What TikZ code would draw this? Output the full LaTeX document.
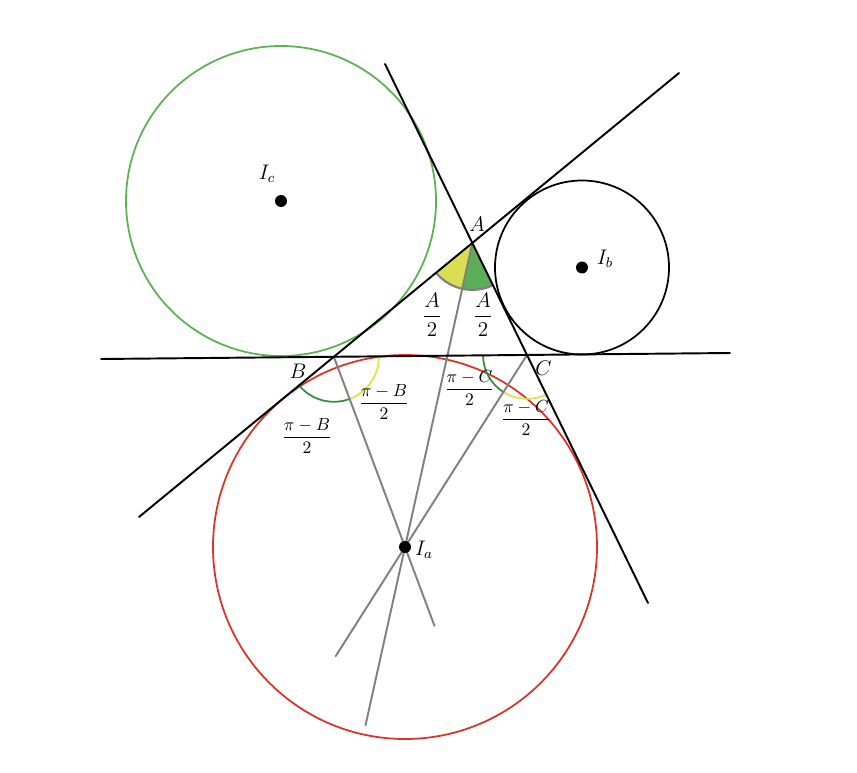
\documentclass[tikz,border=0pt]{standalone}
\usepackage{amsmath}
\usetikzlibrary{calc}
\definecolor{circgreen}{RGB}{92,178,82}
\definecolor{circred}{RGB}{220,50,40}
\definecolor{wedgeyellow}{RGB}{217,222,84}
\definecolor{wedgegreen}{RGB}{92,174,88}
\definecolor{arcgreen}{RGB}{55,140,60}
\definecolor{arcyellow}{RGB}{222,228,70}
\definecolor{bisgray}{RGB}{128,128,128}
\begin{document}
\begin{tikzpicture}[x=0.02cm,y=0.02cm,line cap=round,
sideline/.style={line width=1.1pt},
bisector/.style={draw=bisgray,line width=1.1pt},
excircle/.style={line width=1pt},
anglearc/.style={line width=1pt},
dot/.style={circle,fill,inner sep=0pt,minimum size=0.24cm}]
\useasboundingbox (0,0) rectangle (857,772);
% side lines and vertices
\coordinate (ab1) at (139,255);
\coordinate (ab2) at (679,699);
\coordinate (ca1) at (385,708);
\coordinate (ca2) at (648,169);
\coordinate (bc1) at (101,413);
\coordinate (bc2) at (730,419);
\coordinate (A) at (intersection of ab1--ab2 and ca1--ca2);
\coordinate (B) at (intersection of ab1--ab2 and bc1--bc2);
\coordinate (C) at (intersection of ca1--ca2 and bc1--bc2);
\coordinate (Ia) at (405,225);
\coordinate (Ib) at (582,504.5);
\coordinate (Ic) at (281,571);
% excircles
\draw[excircle,circgreen] (Ic) circle[radius=155];
\draw[excircle] (Ib) circle[radius=87];
\draw[excircle,circred] (Ia) circle[radius=192];
% half angles at A
\fill[wedgeyellow] (A) -- ++(219.4:47) arc[start angle=219.4,end angle=257.5,radius=47] -- cycle;
\fill[wedgegreen] (A) -- ++(257.5:47) arc[start angle=257.5,end angle=296,radius=47] -- cycle;
\draw[bisgray,line width=1.2pt] (A) ++(219.4:47) arc[start angle=219.4,end angle=296,radius=47];
% outer half angles at B and C
\draw[anglearc,arcgreen] (B) ++(219.4:45) arc[start angle=219.4,end angle=290.5,radius=45];
\draw[anglearc,arcyellow] (B) ++(290.5:45) arc[start angle=290.5,end angle=360.6,radius=45];
\draw[anglearc,arcgreen] (C) ++(180.6:44) arc[start angle=180.6,end angle=237.6,radius=44];
\draw[anglearc,arcyellow] (C) ++(237.6:44) arc[start angle=237.6,end angle=296,radius=44];
% bisectors through Ia
\draw[bisector] (A) -- ($(A)!1.586!(Ia)$);
\draw[bisector] (B) -- ($(B)!1.414!(Ia)$);
\draw[bisector] (C) -- ($(C)!1.568!(Ia)$);
% sides
\draw[sideline] (ab1) -- (ab2);
\draw[sideline] (ca1) -- (ca2);
\draw[sideline] (bc1) -- (bc2);
% centres
\node[dot] (dotIa) at (Ia) {};
\node[dot] (dotIb) at (Ib) {};
\node[dot] (dotIc) at (Ic) {};
% labels
\node (labA) at (477,548) {\large $A$};
\node (labB) at (298,401) {\large $B$};
\node (labC) at (543.5,403.5) {\large $C$};
\node (labIa) at (424,222) {\large $I_a$};
\node (labIb) at (605,513) {\large $I_b$};
\node (labIc) at (267,598) {\large $I_c$};
\node (halfAl) at (432,457) {\large $\dfrac{A}{2}$};
\node (halfAr) at (483,457) {\large $\dfrac{A}{2}$};
\node (halfBl) at (307,336) {$\dfrac{\pi-B}{2}$};
\node (halfBr) at (384,370) {$\dfrac{\pi-B}{2}$};
\node (halfCl) at (469.5,384) {$\dfrac{\pi-C}{2}$};
\node (halfCr) at (526,354) {$\dfrac{\pi-C}{2}$};
\end{tikzpicture}
\end{document}
